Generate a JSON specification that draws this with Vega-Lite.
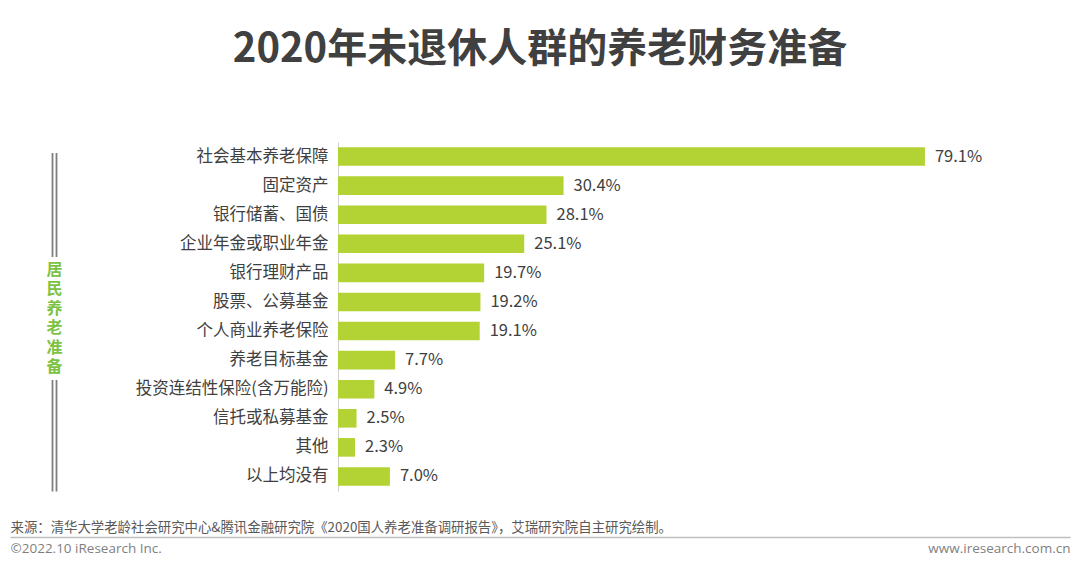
{
  "$schema": "https://vega.github.io/schema/vega-lite/v6.json",
  "width": 1060,
  "height": 349,
  "autosize": {"type": "none"},
  "padding": {"left": 10, "right": 10, "top": 142, "bottom": 82},
  "background": "white",
  "config": {
    "view": {"stroke": null},
    "font": "Noto Sans CJK SC",
    "axis": {"grid": false}
  },
  "title": {
    "text": "2020年未退休人群的养老财务准备",
    "fontSize": 40,
    "fontWeight": "bold",
    "color": "#404040",
    "font": "Noto Sans CJK SC",
    "anchor": "middle",
    "frame": "group",
    "offset": 72
  },
  "data": {
    "values": [
      {"item": "社会基本养老保障", "pct": 79.1},
      {"item": "固定资产", "pct": 30.4},
      {"item": "银行储蓄、国债", "pct": 28.1},
      {"item": "企业年金或职业年金", "pct": 25.1},
      {"item": "银行理财产品", "pct": 19.7},
      {"item": "股票、公募基金", "pct": 19.2},
      {"item": "个人商业养老保险", "pct": 19.1},
      {"item": "养老目标基金", "pct": 7.7},
      {"item": "投资连结性保险(含万能险)", "pct": 4.9},
      {"item": "信托或私募基金", "pct": 2.5},
      {"item": "其他", "pct": 2.3},
      {"item": "以上均没有", "pct": 7.0}
    ]
  },
  "resolve": {"axis": {"x": "independent", "y": "independent"}},
  "layer": [
    {
      "encoding": {
        "y": {
          "field": "item",
          "type": "nominal",
          "sort": null,
          "scale": {"paddingInner": 0.36, "paddingOuter": 0.18},
          "axis": {
            "orient": "left",
            "offset": -328,
            "ticks": false,
            "domain": true,
            "domainColor": "#d0d0d0",
            "domainWidth": 1,
            "labelPadding": 10,
            "labelLimit": 400,
            "labelFontSize": 16.5,
            "labelColor": "#404040",
            "labelFont": "Noto Sans CJK SC",
            "title": ["居", "民", "养", "老", "准", "备"],
            "titleAngle": 0,
            "titleColor": "#7cc242",
            "titleFontSize": 16,
            "titleFontWeight": "bold",
            "titleFont": "Noto Sans CJK SC",
            "titleLineHeight": 19.5,
            "titleX": -284,
            "titleY": 119,
            "titleAlign": "center",
            "titleBaseline": "top"
          }
        },
        "x": {
          "field": "pct",
          "type": "quantitative",
          "scale": {"domain": [-44.2, 98.65], "nice": false, "zero": false},
          "axis": {
            "orient": "bottom",
            "offset": 46,
            "labels": false,
            "ticks": false,
            "domain": true,
            "domainColor": "#bfbfbf",
            "domainWidth": 1.5,
            "title": "来源：清华大学老龄社会研究中心&腾讯金融研究院《2020国人养老准备调研报告》，艾瑞研究院自主研究绘制。",
            "titleFontSize": 13.4,
            "titleFontWeight": "normal",
            "titleColor": "#595959",
            "titleFont": "Noto Sans CJK SC",
            "titleX": 0,
            "titleY": -3,
            "titleAlign": "left",
            "titleBaseline": "bottom"
          }
        }
      },
      "layer": [
        {
          "mark": {"type": "bar", "color": "#b3d233"},
          "encoding": {
            "x2": {"datum": 0}
          }
        },
        {
          "transform": [
            {"calculate": "format(datum.pct, '.1f') + '%'", "as": "label"}
          ],
          "mark": {
            "type": "text",
            "align": "left",
            "baseline": "middle",
            "dx": 10,
            "fontSize": 16.5,
            "color": "#404040",
            "font": "Noto Sans CJK SC"
          },
          "encoding": {
            "text": {"field": "label", "type": "nominal"}
          }
        }
      ]
    },
    {
      "mark": {"type": "tick", "opacity": 0},
      "encoding": {
        "y": {
          "field": "item",
          "type": "nominal",
          "sort": null,
          "axis": {
            "orient": "left",
            "offset": -42,
            "ticks": false,
            "labels": false,
            "title": null,
            "domain": true,
            "domainColor": "#7f7f7f",
            "domainWidth": 1.8,
            "domainDash": [0, 10.5, 104, 123, 112, 20]
          }
        },
        "x": {
          "field": "pct",
          "type": "quantitative",
          "axis": {
            "orient": "bottom",
            "offset": 46,
            "labels": false,
            "ticks": false,
            "domain": false,
            "title": "©2022.10 iResearch Inc.",
            "titleFontSize": 13.5,
            "titleFontWeight": "normal",
            "titleColor": "#7f7f7f",
            "titleFont": "Open Sans",
            "titleX": 0,
            "titleY": 4,
            "titleAlign": "left",
            "titleBaseline": "top"
          }
        }
      }
    },
    {
      "mark": {"type": "tick", "opacity": 0},
      "encoding": {
        "y": {
          "field": "item",
          "type": "nominal",
          "sort": null,
          "axis": {
            "orient": "left",
            "offset": -46,
            "ticks": false,
            "labels": false,
            "title": null,
            "domain": true,
            "domainColor": "#7f7f7f",
            "domainWidth": 1.8,
            "domainDash": [0, 10.5, 104, 123, 112, 20]
          }
        },
        "x": {
          "field": "pct",
          "type": "quantitative",
          "axis": {
            "orient": "bottom",
            "offset": 46,
            "labels": false,
            "ticks": false,
            "domain": false,
            "title": "www.iresearch.com.cn",
            "titleFontSize": 13.5,
            "titleFontWeight": "normal",
            "titleColor": "#7f7f7f",
            "titleFont": "Open Sans",
            "titleX": 1060,
            "titleY": 4,
            "titleAlign": "right",
            "titleBaseline": "top"
          }
        }
      }
    }
  ]
}
